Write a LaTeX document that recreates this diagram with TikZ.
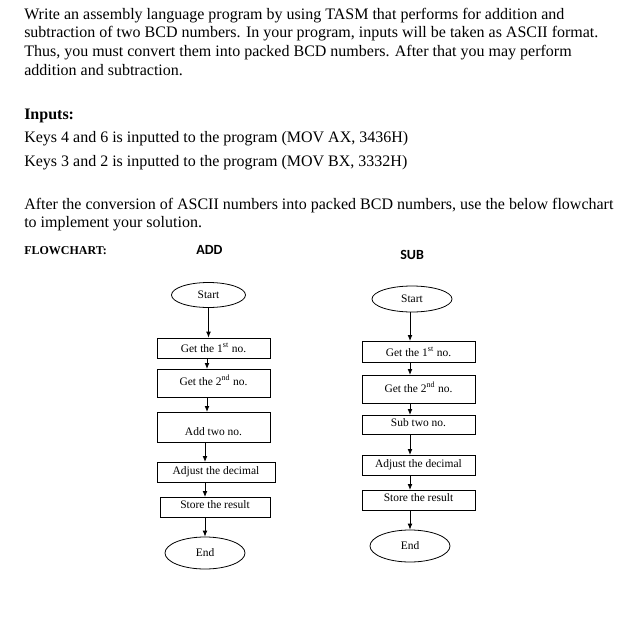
\documentclass[tikz,border=0pt]{standalone}
\usepackage{fontspec}
\setmainfont{Liberation Serif}
\setsansfont{Carlito}
\usetikzlibrary{shapes.geometric,arrows.meta}

\tikzset{
  txt/.style={anchor=base west, inner sep=0pt, font=\fontsize{12}{14}\selectfont},
  flowbox/.style={draw, rectangle, inner sep=0pt, line width=0.6pt, font=\fontsize{8.6}{10}\selectfont},
  terminal/.style={draw, ellipse, inner sep=0pt, line width=0.6pt, font=\fontsize{8.6}{10}\selectfont},
  flowarrow/.style={line width=0.6pt, -{Latex[length=4.5pt,width=3.6pt]}}
}

\begin{document}
\begin{tikzpicture}[x=0.75pt,y=0.75pt,yscale=-1,xscale=1]
    \useasboundingbox (0,0) rectangle (643,639);

    % Text Node
    \node [txt] (line1) at (24,20) {Write an assembly language program by using TASM that performs for addition and};
    % Text Node
    \node [txt] (line2) at (24,37.7) {subtraction of two BCD numbers. In your program, inputs will be taken as ASCII format.};
    % Text Node
    \node [txt] (line3) at (24,56.7) {Thus, you must convert them into packed BCD numbers. After that you may perform};
    % Text Node
    \node [txt] (line4) at (24,75) {addition and subtraction.};
    % Text Node
    \node [txt, font=\fontsize{12}{14}\selectfont\bfseries] (inputs) at (24,119.3) {Inputs:};
    % Text Node
    \node [txt] (keysa) at (24,142.7) {Keys 4 and 6 is inputted to the program (MOV AX, 3436H)};
    % Text Node
    \node [txt] (keysb) at (24,166.7) {Keys 3 and 2 is inputted to the program (MOV BX, 3332H)};
    % Text Node
    \node [txt] (after1) at (24,209.3) {After the conversion of ASCII numbers into packed BCD numbers, use the below flowchart};
    % Text Node
    \node [txt] (after2) at (24,227.7) {to implement your solution.};

    % Text Node
    \node [txt, font=\fontsize{9}{10}\selectfont\bfseries] (flowchart) at (24,254) {FLOWCHART:};
    % Text Node
    \node [txt, font=\fontsize{10.5}{12}\sffamily\bfseries] (addtitle) at (196,254.5) {ADD};
    % Text Node
    \node [txt, font=\fontsize{10.5}{12}\sffamily\bfseries] (subtitle) at (400,259) {SUB};

    %ADD flowchart
    \node [terminal, minimum width=55.5pt, minimum height=18.75pt] (addstart) at (208.5,295) {Start};
    \node [flowbox, minimum width=84.75pt, minimum height=15pt] (addfirst) at (213.5,348) {Get the 1\textsuperscript{st} no.};
    \node [flowbox, minimum width=84.75pt, minimum height=21pt, text depth=4pt] (addsecond) at (213.5,383) {Get the 2\textsuperscript{nd} no.};
    \node [flowbox, minimum width=84.75pt, minimum height=22.5pt, text height=15pt, text depth=2pt] (addtwo) at (213.5,427) {Add two no.};
    \node [flowbox, minimum width=88.5pt, minimum height=15pt] (addadjust) at (216,472) {Adjust the decimal};
    \node [flowbox, minimum width=82.5pt, minimum height=15pt, text depth=3pt] (addstore) at (215,507) {Store the result};
    \node [terminal, minimum width=60pt, minimum height=24pt] (addend) at (205,553) {End};

    \draw [flowarrow] (addstart.south) -- (addstart.south |- addfirst.north);
    \draw [flowarrow] (207,358) -- (207,369);
    \draw [flowarrow] (207,397) -- (207,412);
    \draw [flowarrow] (205,442) -- (205,462);
    \draw [flowarrow] (205,482) -- (205,497);
    \draw [flowarrow] (205,517) -- (addend.north);

    %SUB flowchart
    \node [terminal, minimum width=60pt, minimum height=19.5pt] (substart) at (412,299) {Start};
    \node [flowbox, minimum width=84.75pt, minimum height=15.75pt] (subfirst) at (418.5,351.5) {Get the 1\textsuperscript{st} no.};
    \node [flowbox, minimum width=84.75pt, minimum height=21pt, text depth=3pt] (subsecond) at (418.5,389) {Get the 2\textsuperscript{nd} no.};
    \node [flowbox, minimum width=84.75pt, minimum height=14.25pt, text depth=2.5pt] (subtwo) at (418.5,424.5) {Sub two no.};
    \node [flowbox, minimum width=84.75pt, minimum height=15pt] (subadjust) at (418.5,465) {Adjust the decimal};
    \node [flowbox, minimum width=84.75pt, minimum height=15pt, text depth=3pt] (substore) at (418.5,500) {Store the result};
    \node [terminal, minimum width=60pt, minimum height=24pt] (subend) at (410,546) {End};

    \draw [flowarrow] (410,312) -- (410,341);
    \draw [flowarrow] (410,362) -- (410,375);
    \draw [flowarrow] (410,403) -- (410,415);
    \draw [flowarrow] (410,434) -- (410,455);
    \draw [flowarrow] (410,475) -- (410,490);
    \draw [flowarrow] (410,510) -- (subend.north);

\end{tikzpicture}
\end{document}
